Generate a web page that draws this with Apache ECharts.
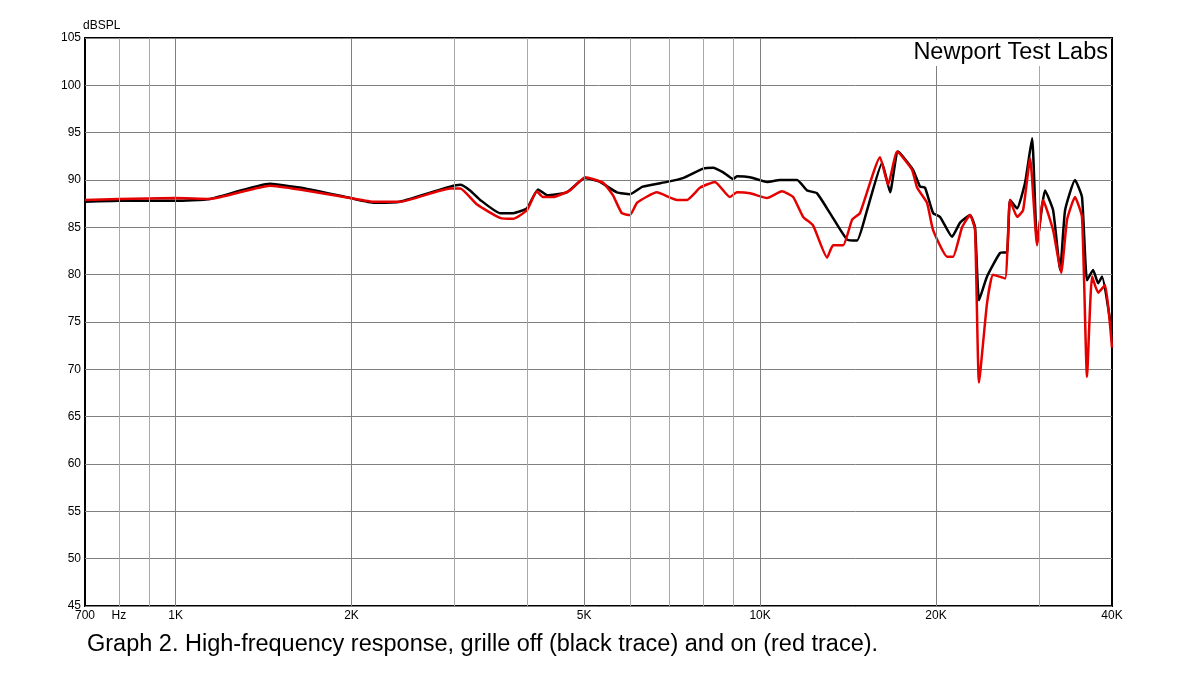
<!DOCTYPE html>
<html>
<head>
<meta charset="utf-8">
<script src="https://cdn.jsdelivr.net/npm/echarts@6/dist/echarts.min.js"></script>
<style>
  html, body { margin: 0; padding: 0; background: #fff; }
  #chart { width: 1200px; height: 675px; }
</style>
</head>
<body>
<div id="chart"></div>
<script>
// frequency (Hz) / level (dB SPL)
var blackFreq = [700, 800, 1000, 1145, 1450, 1630, 1990, 2190, 2420, 2950, 3070, 3190, 3320, 3590, 3780, 3990, 4170, 4320, 4670, 5020, 5320, 5690, 5990, 6300, 6930, 7380, 7990, 8310, 8650, 8990, 9130, 9610, 10280, 10820, 11570, 12030, 12510, 13170, 14090, 14650, 15240, 16170, 16690, 17220, 18260, 18780, 19150, 19770, 20320, 21300, 21990, 22870, 23320, 23690, 24450, 25740, 26460, 26770, 27520, 28400, 29200, 29780, 30730, 31720, 32610, 33250, 34570, 35540, 36250, 37130, 37870, 38470, 40000]
var blackDb = [87.7, 87.8, 87.8, 88.0, 89.6, 89.2, 88.1, 87.6, 87.7, 89.3, 89.5, 88.9, 87.9, 86.5, 86.5, 87.0, 89.0, 88.4, 88.7, 90.2, 89.8, 88.7, 88.5, 89.3, 89.8, 90.2, 91.2, 91.3, 90.8, 90.1, 90.4, 90.3, 89.8, 90.0, 90.0, 88.9, 88.6, 86.5, 83.7, 83.6, 86.8, 91.8, 88.7, 93.0, 91.1, 89.3, 89.2, 86.5, 86.1, 84.0, 85.5, 86.3, 85.0, 77.3, 79.8, 82.3, 82.4, 87.9, 87.0, 89.7, 94.4, 83.3, 88.9, 86.8, 80.5, 86.8, 90.0, 88.2, 79.4, 80.5, 79.1, 79.8, 73.8]

var redFreq = [700, 800, 1000, 1145, 1450, 1630, 1990, 2190, 2420, 2950, 3070, 3280, 3590, 3780, 3990, 4150, 4250, 4420, 4730, 5020, 5390, 5600, 5800, 5990, 6160, 6660, 7210, 7500, 7900, 8370, 8880, 9130, 9610, 10280, 10900, 11390, 11850, 12320, 13020, 13330, 13870, 14370, 14820, 16040, 16560, 17160, 18190, 18560, 19300, 19770, 20890, 21390, 22160, 22870, 23320, 23690, 24450, 25040, 26250, 26770, 27520, 28180, 28970, 29780, 30490, 31720, 32740, 33510, 34570, 35540, 36250, 36980, 37870, 38930, 40000]
var redDb = [87.9, 88.0, 88.1, 88.0, 89.4, 89.0, 88.1, 87.7, 87.7, 89.1, 89.1, 87.4, 86.0, 85.9, 86.8, 88.8, 88.2, 88.2, 88.9, 90.3, 89.7, 88.4, 86.5, 86.3, 87.6, 88.7, 87.9, 87.9, 89.2, 89.8, 88.2, 88.7, 88.6, 88.1, 88.8, 88.2, 86.1, 85.2, 81.8, 83.1, 83.1, 85.8, 86.5, 92.4, 89.5, 93.0, 91.1, 89.2, 87.6, 84.7, 81.9, 81.9, 85.0, 86.3, 84.7, 68.6, 77.0, 80.0, 79.6, 87.9, 86.1, 86.8, 92.3, 83.1, 87.9, 84.7, 80.2, 85.8, 88.2, 86.1, 69.2, 79.8, 78.1, 78.9, 72.3]

// vertical grid lines and their labels
var gridFreqs = [800, 900, 1000, 2000, 3000, 4000, 5000, 6000, 7000, 8000, 9000, 10000, 20000, 30000]
var majorFreqs = [1000, 2000, 5000, 10000, 20000]
var tickLabels = { 700: '700', 800: 'Hz', 1000: '1K', 2000: '2K', 5000: '5K', 10000: '10K', 20000: '20K', 40000: '40K' }

function pairs(xs, ys) {
  return xs.map(function (x, i) { return [x, ys[i]] })
}

var FONT = 'Liberation Sans, Arial, sans-serif'

var vLines = gridFreqs.map(function (f) {
  var major = majorFreqs.indexOf(f) >= 0
  return {
    xAxis: f,
    lineStyle: { color: major ? '#808080' : '#a8a8a8', width: 1, type: 'solid' },
    label: { show: !!tickLabels[f], formatter: tickLabels[f] || '' }
  }
})
// edge labels (no extra line drawn, border covers them)
;[700, 40000].forEach(function (f) {
  vLines.push({
    xAxis: f,
    lineStyle: { color: 'rgba(0,0,0,0)', width: 1 },
    label: { show: true, formatter: tickLabels[f] }
  })
})

var chart = echarts.init(document.getElementById('chart'))
chart.setOption({
  backgroundColor: '#fff',
  animation: false,
  textStyle: { fontFamily: FONT },
  grid: {
    left: 85, right: 88, top: 38, bottom: 69,
    show: true, borderColor: '#000', borderWidth: 2, backgroundColor: 'transparent'
  },
  xAxis: {
    type: 'log', logBase: 10, min: 700, max: 40000,
    axisLine: { show: false }, axisTick: { show: false },
    axisLabel: { show: false }, splitLine: { show: false }, minorSplitLine: { show: false }
  },
  yAxis: {
    type: 'value', min: 45, max: 105, interval: 5,
    name: 'dBSPL', nameLocation: 'end', nameGap: 6,
    nameTextStyle: { color: '#000', fontSize: 12, align: 'left', padding: [0, 0, 0, -2] },
    axisLine: { show: false }, axisTick: { show: false },
    axisLabel: { color: '#000', fontSize: 12, margin: 4 },
    splitLine: { lineStyle: { color: '#808080', width: 1 } }
  },
  series: [
    {
      name: 'grid', type: 'line', data: [], silent: true,
      markLine: {
        silent: true, symbol: 'none', animation: false,
        label: { position: 'start', color: '#000', fontSize: 12, distance: 4, fontFamily: FONT },
        data: vLines
      }
    },
    {
      name: 'grille off', type: 'line', data: pairs(blackFreq, blackDb), smooth: 0.15,
      showSymbol: false, lineStyle: { color: '#000', width: 2.5 }, z: 3
    },
    {
      name: 'grille on', type: 'line', data: pairs(redFreq, redDb), smooth: 0.15,
      showSymbol: false, lineStyle: { color: '#e50000', width: 2.5 }, z: 4
    }
  ],
  graphic: [
    {
      type: 'text', right: 90, top: 40, z: 10,
      style: {
        text: 'Newport Test Labs', fill: '#000', fontSize: 23.5, fontFamily: FONT,
        backgroundColor: '#fff', padding: [1, 2, 1, 2]
      }
    },
    {
      type: 'text', left: 87, top: 633,
      style: { text: 'Graph 2. High-frequency response, grille off (black trace) and on (red trace).', fill: '#000', fontSize: 23.5, fontFamily: FONT }
    }
  ]
})
</script>
</body>
</html>
